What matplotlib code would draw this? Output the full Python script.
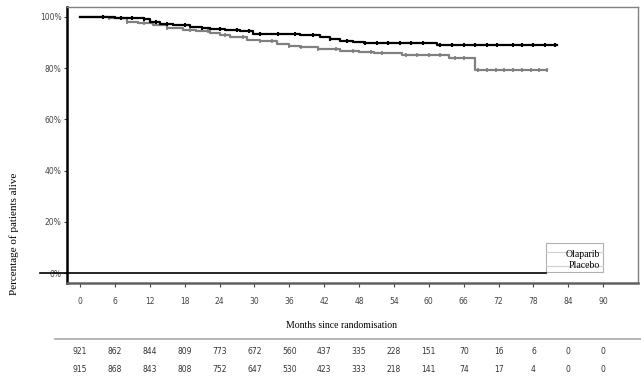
import numpy as np
import matplotlib
matplotlib.use("Agg")
import matplotlib.pyplot as plt
from matplotlib.patches import Rectangle
from matplotlib.transforms import blended_transform_factory

# Kaplan-Meier step points (months, % alive)
ola_months = [0, 3, 6, 8, 9.8, 11, 12, 13.8, 16, 18.9, 21, 22.4, 25, 27.5, 29.8, 33, 37.9,
              41.3, 43, 44.8, 47, 48.8, 61.4, 82]
ola_surv = [100, 99.9, 99.7, 99.6, 99.5, 99.0, 98.2, 97.3, 96.8, 96.0, 95.6, 95.2, 94.8, 94.3,
            93.5, 93.2, 93.0, 92.1, 91.4, 90.6, 90.1, 89.7, 89.1, 89.1]
pla_months = [0, 3, 5, 6.9, 8, 10, 12.6, 15, 17.7, 20, 22.4, 24, 25.8, 28.7, 31, 33.9, 36,
              37.9, 41, 44.8, 48, 50.5, 55.4, 63.5, 68, 80.4]
pla_surv = [100, 99.8, 99.6, 99.5, 98.2, 97.6, 96.9, 95.8, 94.9, 94.3, 93.6, 92.8, 92.1, 91.0,
            90.5, 89.5, 88.8, 88.2, 87.5, 86.8, 86.3, 85.8, 85.2, 83.9, 79.3, 79.3]

# censoring times
ola_cens = [4, 7, 9, 11, 13, 15, 18, 21, 24, 27, 29, 31, 34, 37, 40, 43, 46, 49, 51, 53, 55,
            57, 59, 62, 64, 66, 68, 70, 71.7, 74.5, 76, 78, 80, 81.7]
pla_cens = [5, 8, 11, 15, 19, 22, 25, 28, 31, 33, 36, 38, 41, 44, 47, 50, 52, 56, 58, 60, 62,
            64.5, 66, 68.5, 70, 71.5, 73, 74.5, 76, 77.5, 79, 80.4]

# numbers at risk
risk_months = [0, 6, 12, 18, 24, 30, 36, 42, 48, 54, 60, 66, 72, 78, 84, 90]
ola_risk = [921, 862, 844, 809, 773, 672, 560, 437, 335, 228, 151, 70, 16, 6, 0, 0]
pla_risk = [915, 868, 843, 808, 752, 647, 530, 423, 333, 218, 141, 74, 17, 4, 0, 0]

serif = "Liberation Serif"

fig = plt.figure(figsize=(6.41, 3.84), dpi=100)
ax = fig.add_axes([0.1045, 0.263, 0.891, 0.719])


def step_at(t, xs, ys):
    i = np.searchsorted(xs, t, side="right") - 1
    return np.asarray(ys)[i]


ax.step(pla_months, pla_surv, where="post", color="#808080", lw=1.6)
ax.plot(pla_cens, step_at(pla_cens, pla_months, pla_surv), "|", color="#808080", ms=3, mew=1.2)
ax.step(ola_months, ola_surv, where="post", color="black", lw=1.6)
ax.plot(ola_cens, step_at(ola_cens, ola_months, ola_surv), "|", color="black", ms=3.5, mew=1.5)

ax.set_xlim(-2.24, 96)
ax.set_ylim(-3.9, 103.9)
ax.set_xticks(risk_months)
ax.set_yticks([0, 20, 40, 60, 80, 100])
ax.set_yticklabels(["0%", "20%", "40%", "60%", "80%", "100%"])
ax.tick_params(axis="x", labelsize=5.5, colors="#444444", length=3, width=0.8, pad=7)
ax.tick_params(axis="y", labelsize=5.5, colors="#444444", length=2, width=0.8, pad=2)

for side in ["top", "right"]:
    ax.spines[side].set_color("#808080")
    ax.spines[side].set_linewidth(1.0)
ax.spines["left"].set_color("black")
ax.spines["left"].set_linewidth(1.8)
ax.spines["bottom"].set_color("#606060")
ax.spines["bottom"].set_linewidth(1.8)

# 0% reference line
ax.axhline(0, xmin=-0.047, xmax=0.839, color="black", lw=1.2, clip_on=False)

# legend box
ax.add_patch(Rectangle((0.839, 0.04), 0.1, 0.106, transform=ax.transAxes, fill=False,
                       ec="#b0b0b0", lw=0.8))
ax.plot([0.839, 0.939], [0.113, 0.113], transform=ax.transAxes, color="#d0d0d0", lw=0.8)
ax.plot([0.839, 0.939], [0.062, 0.062], transform=ax.transAxes, color="#d0d0d0", lw=0.8)
ax.text(0.934, 0.105, "Olaparib", transform=ax.transAxes, ha="right", va="center",
        family=serif, fontsize=7)
ax.text(0.934, 0.062, "Placebo", transform=ax.transAxes, ha="right", va="center",
        family=serif, fontsize=7)

fig.text(0.022, 0.39, "Percentage of patients alive", rotation=90, ha="center", va="center",
         family=serif, fontsize=8)

tr = blended_transform_factory(ax.transData, fig.transFigure)
ax.text(45, 1 - 325 / 384, "Months since randomisation", transform=tr, ha="center",
        va="center", family=serif, fontsize=7)

fig.add_artist(plt.Line2D([55 / 641, 1.0], [1 - 339 / 384] * 2, color="#a8a8a8", lw=1.2))

for m, a, b in zip(risk_months, ola_risk, pla_risk):
    ax.text(m, 1 - 352 / 384, str(a), transform=tr, ha="center", va="center", fontsize=5.5,
            color="#333333")
    ax.text(m, 1 - 370 / 384, str(b), transform=tr, ha="center", va="center", fontsize=5.5,
            color="#333333")

fig.savefig("out.png", dpi=100)
